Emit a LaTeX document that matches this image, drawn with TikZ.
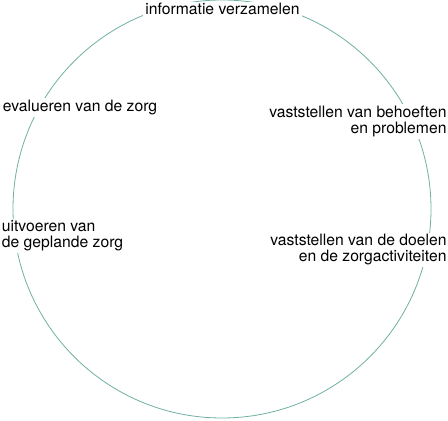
\documentclass[tikz,border=0pt]{standalone}
\usepackage{fontspec}
\setmainfont{TeX Gyre Heros}
\definecolor{kringgroen}{RGB}{112,176,163}

\begin{document}
\begin{tikzpicture} [x = 1pt, y = 1pt]
\tikzset{
  kring/.style = {draw = kringgroen, line width = 0.8pt},
  stap/.style = {fill = white, inner sep = 2pt, font = \fontsize{15.7}{16}\selectfont}
}
\useasboundingbox (0, 0) rectangle (448, 421);
\draw[kring] (222, 212) circle (209);
\node[stap, anchor = base] (info) at (222.5, 406){informatie verzamelen};
\node[stap, anchor = base east, align = right] (behoeften) at (448.7, 287.7){vaststellen van behoeften\\en problemen};
\node[stap, anchor = base east, align = right] (doelen) at (448.7, 159){vaststellen van de doelen\\en de zorgactiviteiten};
\node[stap, anchor = base west, align = left] (uitvoeren) at (-0.3, 173.3){uitvoeren van\\de geplande zorg};
\node[stap, anchor = base west] (evalueren) at (0.7, 309.3){evalueren van de zorg};
\end{tikzpicture}
\end{document}
